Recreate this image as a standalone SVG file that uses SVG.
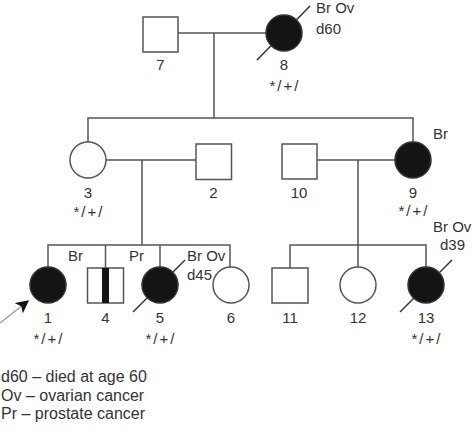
<svg xmlns="http://www.w3.org/2000/svg" width="474" height="430" viewBox="0 0 474 430">
<defs>
<style>
.ln{stroke:#555;stroke-width:1.5;fill:none}
.open{fill:#fff;stroke:#555;stroke-width:1.5}
.aff{fill:#141414;stroke:#333;stroke-width:1.5}
.sl{stroke:#333;stroke-width:1.5}
text{font-family:"Liberation Sans","DejaVu Sans",sans-serif;font-size:15px;fill:#333}
.c{text-anchor:middle}
.st{letter-spacing:2px}
.lg{font-size:16px}
</style>
<marker id="ah" viewBox="0 0 10 10" refX="9" refY="5" markerWidth="13" markerHeight="13" markerUnits="userSpaceOnUse" orient="auto">
<path d="M0,0 L10,5 L0,10 L2.5,5 z" fill="#111"/>
</marker>
</defs>
<rect width="474" height="430" fill="#fff"/>
<g id="connectors">
<line class="ln" x1="178" y1="33" x2="266" y2="33"/>
<line class="ln" x1="214" y1="33" x2="214" y2="118"/>
<polyline class="ln" points="88,142 88,118 413,118 413,142"/>
<line class="ln" x1="106" y1="160" x2="196" y2="160"/>
<line class="ln" x1="142" y1="160" x2="142" y2="245"/>
<line class="ln" x1="317" y1="160" x2="395" y2="160"/>
<line class="ln" x1="358" y1="160" x2="358" y2="245"/>
<polyline class="ln" points="48,267 48,245 230,245 230,267"/>
<line class="ln" x1="105.5" y1="245" x2="105.5" y2="268"/>
<line class="ln" x1="160" y1="245" x2="160" y2="267"/>
<polyline class="ln" points="290,268 290,245 426,245 426,267"/>
<line class="ln" x1="358" y1="245" x2="358" y2="267"/>
<line x1="0" y1="323" x2="28" y2="301" stroke="#999" stroke-width="1.3" marker-end="url(#ah)"/>
</g>
<g id="n7">
<rect class="open" x="143" y="17" width="35" height="35"/>
<text class="c" x="160.5" y="70">7</text>
</g>
<g id="n8">
<line class="sl" x1="257" y1="60" x2="310" y2="6"/>
<circle class="aff" cx="284" cy="33" r="18"/>
<text x="316" y="13">Br Ov</text>
<text x="316" y="34">d60</text>
<text class="c" x="284" y="70">8</text>
<text class="c st" x="285" y="91">*/+/</text>
</g>
<g id="n3">
<circle class="open" cx="88" cy="160" r="18"/>
<text class="c" x="88" y="198">3</text>
<text class="c st" x="89" y="217">*/+/</text>
</g>
<g id="n2">
<rect class="open" x="196" y="144" width="35.5" height="35.5"/>
<text class="c" x="213.5" y="198">2</text>
</g>
<g id="n10">
<rect class="open" x="282" y="144" width="35" height="35"/>
<text class="c" x="299" y="198">10</text>
</g>
<g id="n9">
<circle class="aff" cx="413" cy="160" r="18"/>
<text x="433" y="139">Br</text>
<text class="c" x="413" y="198">9</text>
<text class="c st" x="414" y="216">*/+/</text>
</g>
<g id="n1">
<circle class="aff" cx="48" cy="285" r="18"/>
<text x="68" y="261">Br</text>
<text class="c" x="48" y="323">1</text>
<text class="c st" x="49" y="344">*/+/</text>
</g>
<g id="n4">
<rect class="open" x="87.5" y="268" width="36" height="35"/>
<rect x="102" y="268" width="7" height="35" fill="#141414"/>
<text x="129" y="261">Pr</text>
<text class="c" x="105.5" y="323">4</text>
</g>
<g id="n5">
<line class="sl" x1="133" y1="312" x2="185" y2="260"/>
<circle class="aff" cx="160" cy="285" r="18"/>
<text x="187" y="261">Br Ov</text>
<text x="187" y="280">d45</text>
<text class="c" x="160" y="323">5</text>
<text class="c st" x="161" y="344">*/+/</text>
</g>
<g id="n6">
<circle class="open" cx="231" cy="285" r="18"/>
<text class="c" x="231" y="323">6</text>
</g>
<g id="n11">
<rect class="open" x="272" y="268" width="36" height="35"/>
<text class="c" x="290" y="323">11</text>
</g>
<g id="n12">
<circle class="open" cx="358" cy="285" r="18"/>
<text class="c" x="358" y="323">12</text>
</g>
<g id="n13">
<line class="sl" x1="400" y1="312" x2="452" y2="260"/>
<circle class="aff" cx="426" cy="285" r="18"/>
<text x="433" y="232">Br Ov</text>
<text x="440" y="250">d39</text>
<text class="c" x="426" y="323">13</text>
<text class="c st" x="427" y="344">*/+/</text>
</g>
<g id="legend">
<text class="lg" x="1" y="382">d60 – died at age 60</text>
<text class="lg" x="1" y="401">Ov – ovarian cancer</text>
<text class="lg" x="1" y="419">Pr – prostate cancer</text>
</g>
</svg>
